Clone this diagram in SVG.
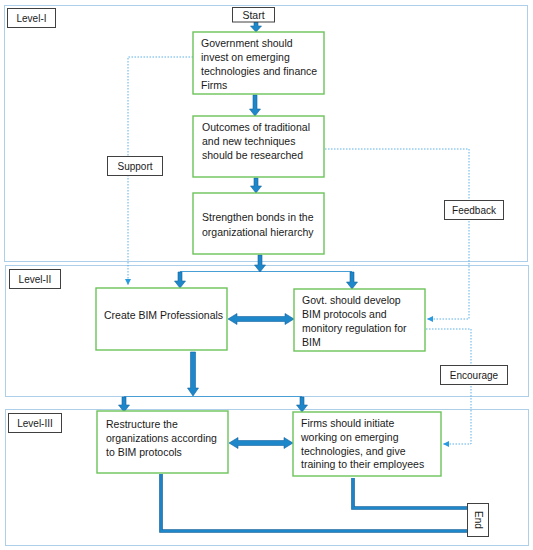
<svg xmlns="http://www.w3.org/2000/svg" width="533" height="550" viewBox="0 0 533 550">
<defs>
<style>
.panel{fill:none;stroke:#5a9fd4;stroke-width:1;stroke-dasharray:1 1}
.node{fill:#fff;stroke:#6cc35a;stroke-width:1.4}
.lbl{fill:#fff;stroke:#404040;stroke-width:1}
.t{font-family:"Liberation Sans",Arial,sans-serif;font-size:10.5px;fill:#1a1a1a}
.tl{font-family:"Liberation Sans",Arial,sans-serif;font-size:10px;fill:#1a1a1a;text-anchor:middle}
.fat{fill:#1d87ca;stroke:#1565a0;stroke-width:0.6}
.dot{fill:none;stroke:#4aa8e6;stroke-width:0.9;stroke-dasharray:1.5 1.5}
.thin{fill:none;stroke:#4a9ed6;stroke-width:1.2}
.end{fill:none;stroke:#1565a0;stroke-width:3.6}
.endi{fill:none;stroke:#1d87ca;stroke-width:1.8}
</style>
<marker id="ah" viewBox="0 0 6 6" refX="6" refY="3" markerWidth="6" markerHeight="6" orient="auto" markerUnits="userSpaceOnUse">
<path d="M0,0 L6,3 L0,6 Z" fill="#2a9be0"/>
</marker>
</defs>
<rect width="533" height="550" fill="#fff"/>

<g id="panels">
<rect class="panel" x="4.5" y="5.5" width="523" height="256"/>
<rect class="panel" x="5.5" y="265.5" width="523" height="131"/>
<rect class="panel" x="5.5" y="409.5" width="523" height="136"/>
</g>

<g id="connectors">
<path class="thin" d="M180,271.5 H352"/>
<path class="thin" d="M124,396.5 H302"/>
<path class="fat" d="M254,22 H258 V26 H261.5 L256,32 L250.5,26 H254 Z"/>
<path class="fat" d="M253,95 H257 V109 H260.5 L255,116 L249.5,109 H253 Z"/>
<path class="fat" d="M254,178 H258 V186 H261.5 L256,193 L250.5,186 H254 Z"/>
<path class="fat" d="M258,255 H262 V265 H265.5 L260,272 L254.5,265 H258 Z"/>
<path class="fat" d="M178,272 H182 V281 H185.5 L180,288 L174.5,281 H178 Z"/>
<path class="fat" d="M350,272 H354 V282 H357.5 L352,289 L346.5,282 H350 Z"/>
<path class="fat" d="M190.5,352 H195.5 V388 H198.5 L193,396 L187.5,388 H190.5 Z"/>
<path class="fat" d="M122,397 H126 V405 H129.5 L124,412 L118.5,405 H122 Z"/>
<path class="fat" d="M300,397 H304 V405 H307.5 L302,412 L296.5,405 H300 Z"/>
<path class="fat" d="M228,319 L237,313.5 V316.5 H285 V313.5 L294,319 L285,324.5 V321.5 H237 V324.5 Z"/>
<path class="fat" d="M229,443 L238,437.5 V440.5 H284 V437.5 L293,443 L284,448.5 V445.5 H238 V448.5 Z"/>
<path class="end" d="M161,474 V531 H467"/>
<path class="endi" d="M161,474 V531 H467"/>
<path class="end" d="M353,478 V508 H467"/>
<path class="endi" d="M353,478 V508 H467"/>
<path class="dot" d="M193,57 H128 V285" marker-end="url(#ah)"/>
<path class="dot" d="M325,149 H469 V319 H427" marker-end="url(#ah)"/>
<path class="dot" d="M426,329 H471 V444 H443" marker-end="url(#ah)"/>
</g>

<g id="level1-label"><rect class="lbl" x="7.5" y="8.5" width="48" height="19"/><text class="tl" x="31.5" y="21.5">Level-I</text></g>
<g id="level2-label"><rect class="lbl" x="9.5" y="269.5" width="51" height="19"/><text class="tl" x="35" y="282.5">Level-II</text></g>
<g id="level3-label"><rect class="lbl" x="8.5" y="413.5" width="53" height="19"/><text class="tl" x="35" y="426.5">Level-III</text></g>

<g id="start"><rect class="lbl" x="232.5" y="7.5" width="42" height="14.5"/><text class="tl" x="253.5" y="18.5" style="font-size:10.5px">Start</text></g>

<g id="n1">
<rect class="node" x="193" y="32" width="131" height="62"/>
<text class="t" x="201" y="47">Government should</text>
<text class="t" x="201" y="61">invest on emerging</text>
<text class="t" x="201" y="75">technologies and finance</text>
<text class="t" x="201" y="88.5">Firms</text>
</g>
<g id="n2">
<rect class="node" x="193" y="116" width="131" height="61"/>
<text class="t" x="202" y="131">Outcomes of traditional</text>
<text class="t" x="202" y="145">and new techniques</text>
<text class="t" x="202" y="159">should be researched</text>
</g>
<g id="n3">
<rect class="node" x="193" y="193" width="131" height="61"/>
<text class="t" x="202" y="221">Strengthen bonds in the</text>
<text class="t" x="202" y="235.5">organizational hierarchy</text>
</g>
<g id="n4">
<rect class="node" x="96" y="288" width="131" height="62"/>
<text class="t" x="104" y="319">Create BIM Professionals</text>
</g>
<g id="n5">
<rect class="node" x="294" y="289" width="131" height="62"/>
<text class="t" x="302" y="304">Govt. should develop</text>
<text class="t" x="302" y="318">BIM protocols and</text>
<text class="t" x="302" y="332">monitory regulation for</text>
<text class="t" x="302" y="346">BIM</text>
</g>
<g id="n6">
<rect class="node" x="97" y="411" width="131" height="62"/>
<text class="t" x="106" y="428">Restructure the</text>
<text class="t" x="106" y="442">organizations according</text>
<text class="t" x="106" y="456">to BIM protocols</text>
</g>
<g id="n7">
<rect class="node" x="293" y="412" width="148" height="64"/>
<text class="t" x="301" y="427">Firms should initiate</text>
<text class="t" x="301" y="441">working on emerging</text>
<text class="t" x="301" y="455">technologies, and give</text>
<text class="t" x="301" y="468">training to their employees</text>
</g>

<g id="support"><rect class="lbl" x="107.5" y="156.5" width="55" height="19"/><text class="tl" x="135" y="169.5">Support</text></g>
<g id="feedback"><rect class="lbl" x="444.5" y="200.5" width="59" height="19"/><text class="tl" x="474" y="213.5">Feedback</text></g>
<g id="encourage"><rect class="lbl" x="440.5" y="365.5" width="67" height="19"/><text class="tl" x="474" y="378.5">Encourage</text></g>
<g id="end"><rect class="lbl" x="467.5" y="503.5" width="21" height="33"/><text class="tl" transform="translate(474.5,520) rotate(90)" x="0" y="0">End</text></g>
</svg>
